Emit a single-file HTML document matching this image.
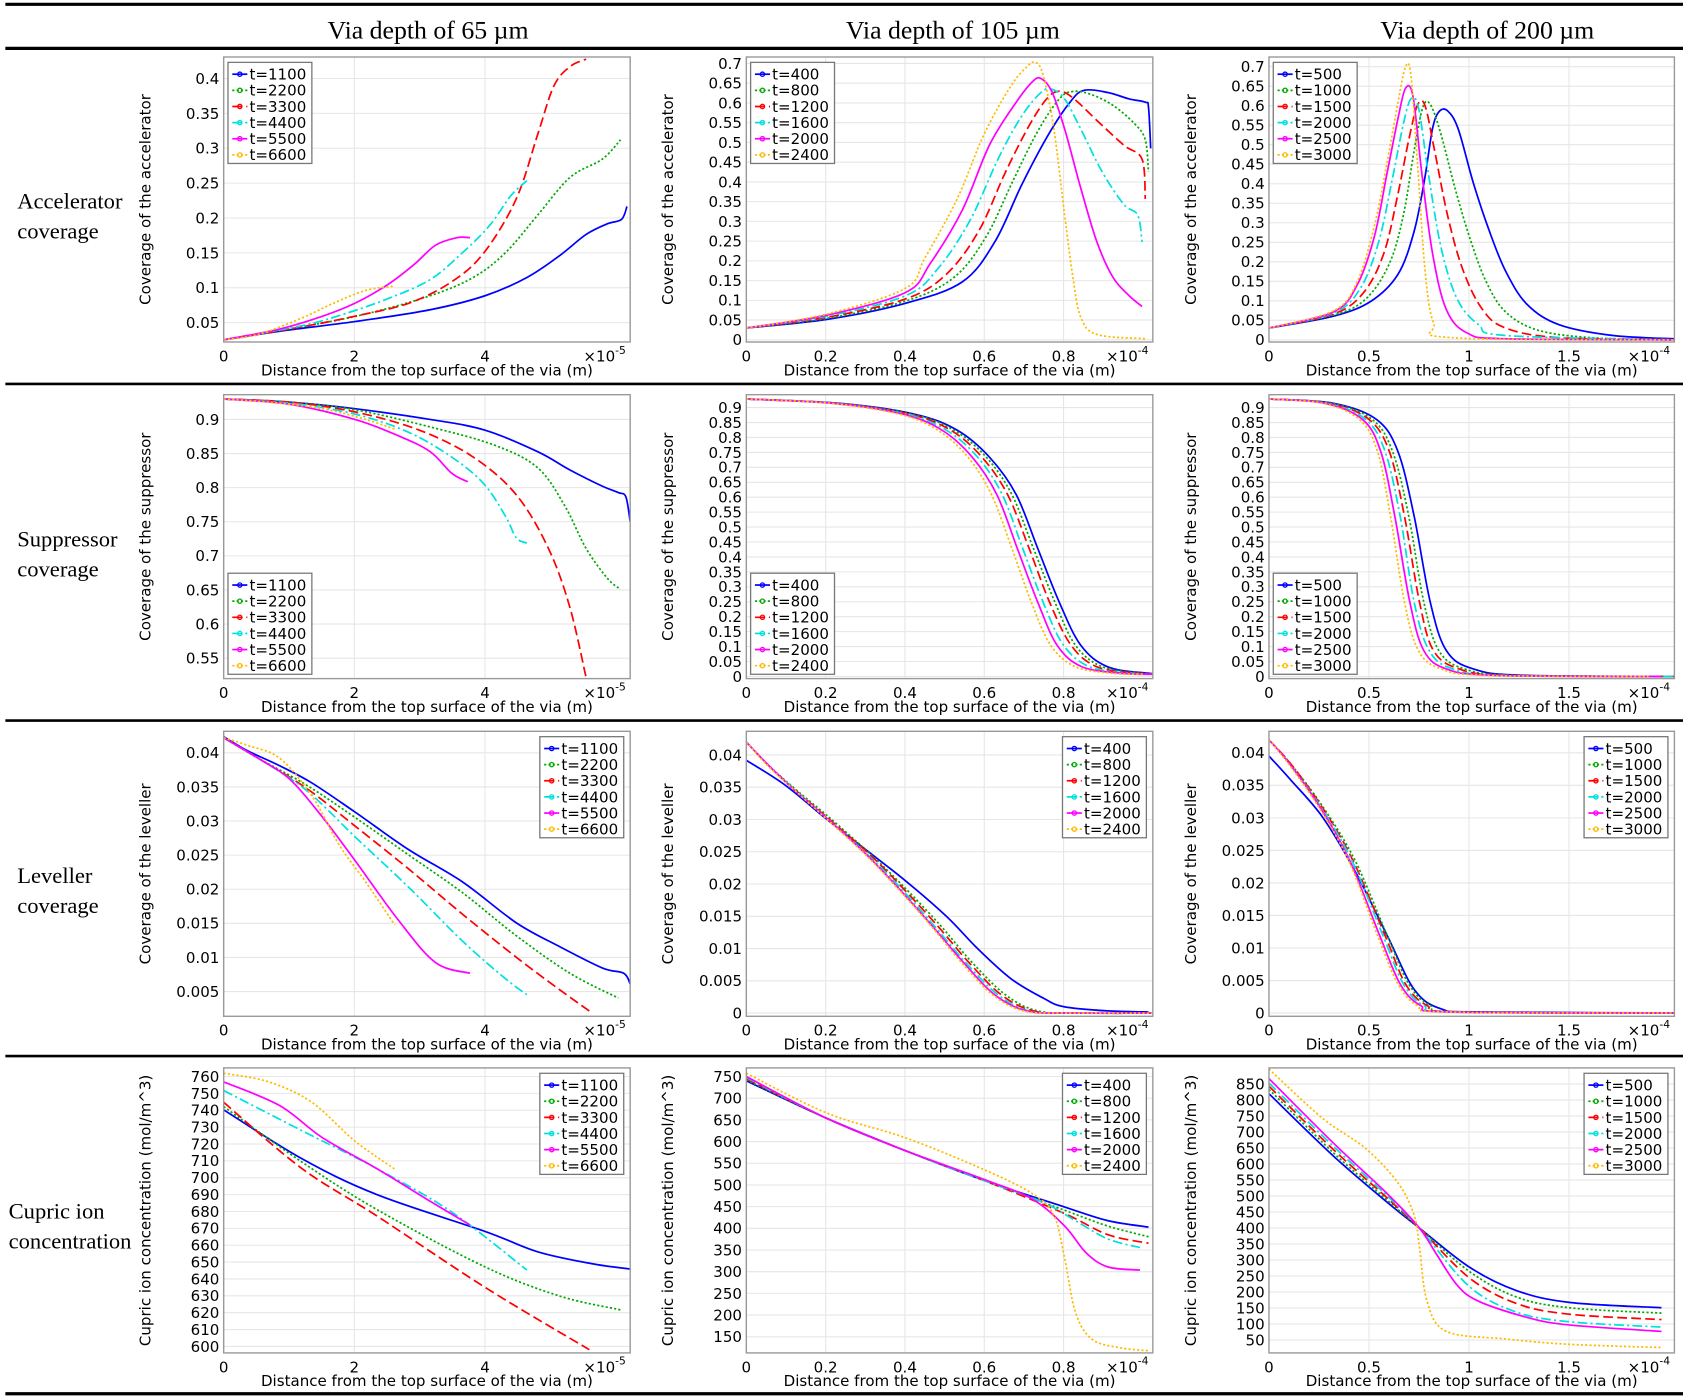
<!DOCTYPE html>
<html><head><meta charset="utf-8"><style>
html,body{margin:0;padding:0;background:#fff;}
svg{display:block;}
</style></head><body>
<svg id="s" width="1683" height="1397" viewBox="0 0 1565 1299" preserveAspectRatio="none" xmlns="http://www.w3.org/2000/svg">
<rect width="1565" height="1299" fill="#fff"/>
<g font-family="Liberation Serif, serif" font-size="24" fill="#000" text-anchor="middle">
<text x="398" y="36">Via depth of 65 µm</text>
<text x="886" y="36">Via depth of 105 µm</text>
<text x="1383" y="36">Via depth of 200 µm</text>
</g>
<g font-family="Liberation Serif, serif" font-size="21" fill="#000">
<text x="16" y="194">Accelerator</text><text x="16" y="222">coverage</text>
<text x="16" y="508">Suppressor</text><text x="16" y="536">coverage</text>
<text x="16" y="821">Leveller</text><text x="16" y="849">coverage</text>
<text x="8" y="1133">Cupric ion</text><text x="8" y="1161">concentration</text>
</g>
<g stroke="#000">
<line x1="5" y1="4" x2="1565" y2="4" stroke-width="3"/>
<line x1="5" y1="45" x2="1565" y2="45" stroke-width="3"/>
<line x1="5" y1="357" x2="1565" y2="357" stroke-width="2.5"/>
<line x1="5" y1="670" x2="1565" y2="670" stroke-width="2.5"/>
<line x1="5" y1="982" x2="1565" y2="982" stroke-width="2.5"/>
<line x1="5" y1="1296" x2="1565" y2="1296" stroke-width="3"/>
</g>
<g id="plots"></g>
</svg>
<script>
var NS="http://www.w3.org/2000/svg",G=document.getElementById('plots');
function el(t,a,p,txt){var e=document.createElementNS(NS,t);for(var k in a)e.setAttribute(k,a[k]);if(txt!==undefined)e.textContent=txt;(p||G).appendChild(e);return e;}
var COL=["#0000ff","#00aa00","#ff0000","#00e0e0","#ff00ff","#ffbb00"];
var DASH=["","2,2","9,4","9,3,2,3","","2,2"];
function path(pts){if(pts.length<2)return"";var d="M"+pts[0][0]+","+pts[0][1];
for(var i=0;i<pts.length-1;i++){var p0=pts[i-1]||pts[i],p1=pts[i],p2=pts[i+1],p3=pts[i+2]||p2;
var c1=[p1[0]+(p2[0]-p0[0])/6,p1[1]+(p2[1]-p0[1])/6],c2=[p2[0]-(p3[0]-p1[0])/6,p2[1]-(p3[1]-p1[1])/6];
d+=" C"+c1[0].toFixed(1)+","+c1[1].toFixed(1)+" "+c2[0].toFixed(1)+","+c2[1].toFixed(1)+" "+p2[0]+","+p2[1];}return d;}
var COLS=[[208,586],[694,1072],[1180,1557]];
var ROWS=[[53,318],[367,631],[680,945],[993,1258]];
var YLAB=["Coverage of the accelerator","Coverage of the suppressor","Coverage of the leveller","Cupric ion concentration (mol/m^3)"];
function plot(c,r,xt,yt,exp,leg,legpos,curves){
 var L=COLS[c][0],R=COLS[c][1],T=ROWS[r][0],B=ROWS[r][1];
 var g=el('g',{});
 xt.forEach(function(t){el('line',{x1:t[0],y1:T,x2:t[0],y2:B,stroke:"#e6e6e6","stroke-width":1},g);});
 yt.forEach(function(t){el('line',{x1:L,y1:t[0],x2:R,y2:t[0],stroke:"#e6e6e6","stroke-width":1},g);});
 var cp=el('clipPath',{id:"c"+c+r},g);el('rect',{x:L,y:T,width:R-L,height:B-T},cp);
 var cg=el('g',{"clip-path":"url(#c"+c+r+")"},g);
 curves.forEach(function(pts,i){if(pts)el('path',{d:path(pts),fill:"none",stroke:COL[i],"stroke-width":1.6,"stroke-dasharray":DASH[i]},cg);});
 el('rect',{x:L,y:T,width:R-L,height:B-T,fill:"none",stroke:"#999","stroke-width":1.3},g);
 var tf={"font-family":"DejaVu Sans, Liberation Sans, sans-serif","font-size":14,fill:"#000"};
 xt.forEach(function(t){var a=Object.assign({x:t[0],y:B+18,"text-anchor":"middle"},tf);el('text',a,g,t[1]);});
 yt.forEach(function(t){var a=Object.assign({x:L-4,y:t[0]+5,"text-anchor":"end"},tf);el('text',a,g,t[1]);});
 var e=el('text',Object.assign({x:R-4,y:B+18,"text-anchor":"end"},tf),g,"×10");
 el('tspan',{dy:-7,"font-size":10},e,exp);
 el('text',Object.assign({x:(L+R)/2,y:B+31,"text-anchor":"middle"},tf),g,"Distance from the top surface of the via (m)");
 var cx=L-68,cy=(T+B)/2;
 el('text',Object.assign({x:cx,y:cy,"text-anchor":"middle",transform:"rotate(-90 "+cx+" "+cy+")"},tf),g,YLAB[r]);
 var w=78,h=94,lx,ly;
 if(legpos=="tl"){lx=L+4;ly=T+5;}else if(legpos=="bl"){lx=L+4;ly=B-h-4;}else{lx=R-w-6;ly=T+5;}
 el('rect',{x:lx,y:ly,width:w,height:h,fill:"#fff",stroke:"#777","stroke-width":1.2},g);
 leg.forEach(function(s,i){var yy=ly+11+15*i;
  el('line',{x1:lx+4,y1:yy,x2:lx+18,y2:yy,stroke:COL[i],"stroke-width":1.6,"stroke-dasharray":DASH[i]},g);
  el('circle',{cx:lx+11,cy:yy,r:2,fill:"none",stroke:COL[i],"stroke-width":1.2},g);
  el('text',Object.assign({x:lx+20,y:yy+5},tf),g,"t="+s);});
}
function ticks(v0,p0,v1,p1,vals,fmt){return vals.map(function(v){return[p0+(v-v0)*(p1-p0)/(v1-v0),fmt?fmt(v):String(v)];});}
function rng(a,b,s){var o=[];for(var v=a;v<=b+1e-9;v+=s)o.push(Math.round(v*10000)/10000);return o;}
function scaleX(pts,L,k){return pts.map(function(p){return[Math.round(L+(p[0]-L)*k),p[1]];});}
var L1=["1100","2200","3300","4400","5500","6600"],L2=["400","800","1200","1600","2000","2400"],L3=["500","1000","1500","2000","2500","3000"];
var X1=ticks(0,208,4,451,[0,2,4]),X2=ticks(0,694,0.8,989,[0,0.2,0.4,0.6,0.8]),X3=ticks(0,1180,1.5,1459,[0,0.5,1,1.5]);
// Row 1
plot(0,0,X1,ticks(0.05,300,0.4,73,rng(0.05,0.4,0.05)),"-5",L1,"tl",[
[[208,316],[260,308],[330,299],[400,288],[451,275],[490,258],[520,238],[545,218],[565,208],[578,204],[583,192]],
[[208,316],[280,304],[340,292],[400,275],[440,258],[470,235],[500,200],[530,165],[560,148],[577,130]],
[[208,316],[280,304],[330,294],[380,282],[420,262],[450,235],[480,185],[500,125],[515,80],[530,62],[545,55]],
[[208,316],[280,303],[320,292],[360,278],[400,260],[430,235],[455,210],[475,182],[490,168]],
[[208,316],[260,306],[300,294],[330,282],[360,265],[385,246],[405,228],[425,221],[437,221]],
[[208,316],[240,311],[280,296],[310,282],[340,270],[367,266]]]);
plot(1,0,X2,ticks(0,316,0.7,59,rng(0,0.7,0.05)),"-4",L2,"tl",[
[[694,305],[769,297],[842,282],[895,262],[925,225],[950,172],[975,125],[995,95],[1008,84],[1030,86],[1050,92],[1065,95],[1068,100],[1070,138]],
[[694,305],[769,296],[842,280],[887,258],[917,220],[942,168],[965,122],[985,92],[998,85],[1015,88],[1035,98],[1055,115],[1065,130],[1068,160]],
[[694,305],[769,295],[842,278],[880,255],[910,215],[935,160],[958,115],[975,90],[987,85],[1000,93],[1020,112],[1045,135],[1062,148],[1065,185]],
[[694,305],[769,294],[842,275],[872,250],[902,205],[928,148],[950,108],[968,86],[978,83],[990,92],[1005,120],[1025,160],[1045,190],[1058,200],[1062,225]],
[[694,305],[769,293],[842,272],[865,245],[895,195],[920,135],[945,95],[960,76],[968,73],[978,85],[990,120],[1005,175],[1020,225],[1035,258],[1050,275],[1062,285]],
[[694,305],[769,292],[842,268],[860,240],[890,185],[915,125],[940,80],[955,62],[963,58],[970,70],[980,120],[990,200],[998,260],[1005,295],[1020,311],[1065,315]]]);
plot(2,0,X3,ticks(0,316,0.7,62,rng(0,0.7,0.05)),"-4",L3,"tl",[
[[1180,305],[1240,294],[1275,280],[1300,255],[1315,215],[1325,165],[1332,120],[1338,104],[1346,103],[1356,120],[1370,170],[1385,215],[1400,252],[1420,283],[1450,302],[1500,312],[1557,315]],
[[1180,305],[1240,293],[1270,278],[1292,245],[1305,200],[1315,140],[1323,100],[1330,97],[1340,125],[1353,175],[1367,222],[1382,262],[1400,290],[1430,307],[1480,314],[1557,316]],
[[1180,305],[1240,292],[1268,272],[1287,235],[1300,180],[1310,130],[1318,98],[1325,98],[1334,140],[1346,200],[1360,250],[1378,287],[1400,305],[1450,314],[1557,316]],
[[1180,305],[1240,291],[1265,268],[1282,225],[1295,165],[1305,115],[1312,92],[1319,100],[1328,160],[1340,230],[1355,278],[1375,302],[1400,312],[1557,316]],
[[1180,305],[1240,290],[1262,265],[1278,220],[1290,160],[1300,110],[1307,82],[1314,90],[1322,160],[1332,235],[1345,288],[1365,310],[1400,315],[1557,316]],
[[1180,305],[1240,289],[1262,262],[1278,210],[1290,150],[1300,95],[1307,62],[1312,70],[1318,150],[1325,250],[1333,300],[1350,314],[1557,316]]]);
// Row 2
plot(0,1,X1,ticks(0.55,612,0.9,390,rng(0.55,0.9,0.05)),"-5",L1,"bl",[
[[208,371],[270,374],[330,380],[400,390],[451,400],[500,420],[530,437],[560,452],[575,458],[582,462],[586,485]],
[[208,371],[270,374],[330,381],[400,397],[460,414],[500,435],[525,470],[545,510],[565,538],[577,548]],
[[208,371],[270,374],[330,383],[390,400],[440,425],[480,460],[510,510],[530,565],[545,630]],
[[208,371],[270,375],[330,385],[380,402],[420,425],[450,450],[470,480],[480,500],[490,505]],
[[208,371],[270,376],[330,390],[370,405],[400,420],[420,440],[435,448]],
[[208,371],[250,374],[300,380],[340,390],[367,399]]]);
var b22=[[694,371],[780,375],[850,385],[890,400],[920,425],[945,460],[965,510],[985,560],[1005,600],[1030,620],[1068,626],[1100,627]];
var k22=[1,0.985,0.97,0.95,0.93,0.91];
plot(1,1,X2,ticks(0,629,0.9,379,rng(0,0.9,0.05)),"-4",L2,"bl",k22.map(function(k){return scaleX(b22,694,k);}));
var b23=[[1180,371],[1240,375],[1280,390],[1300,420],[1315,480],[1330,560],[1345,605],[1370,622],[1420,628],[1600,629]];
var k23=[1,0.96,0.93,0.9,0.87,0.84];
plot(2,1,X3,ticks(0,629,0.9,379,rng(0,0.9,0.05)),"-4",L3,"bl",k23.map(function(k){return scaleX(b23,1180,k);}));
// Row 3
plot(0,2,X1,ticks(0.005,922,0.04,700,rng(0.005,0.04,0.005)),"-5",L1,"tr",[
[[208,685],[230,698],[260,712],[290,728],[330,755],[380,790],[430,820],[480,858],[520,880],[560,900],[580,905],[586,915]],
[[208,686],[240,705],[285,730],[330,760],[380,795],[430,830],[480,870],[530,905],[575,928]],
[[208,686],[240,705],[285,733],[330,768],[380,808],[430,850],[480,890],[520,920],[548,940]],
[[208,686],[240,705],[285,735],[330,778],[380,825],[430,875],[470,910],[490,925]],
[[208,686],[240,705],[270,725],[300,760],[330,800],[370,855],[405,895],[437,905]],
[[208,686],[230,693],[260,705],[290,740],[315,785],[340,820],[367,860]]]);
var b32=[[694,690],[715,712],[740,735],[769,760],[805,792],[835,822],[870,860],[900,895],[930,925],[960,940],[1000,942],[1100,942]];
plot(1,2,X2,ticks(0,942,0.04,702,rng(0,0.04,0.005)),"-4",L2,"tr",[
[[694,707],[730,730],[769,762],[805,790],[842,819],[880,852],[909,882],[940,910],[970,928],[989,936],[1030,940],[1068,941]],
scaleX(b32,694,1.02),scaleX(b32,694,1.005),scaleX(b32,694,0.99),scaleX(b32,694,0.98),scaleX(b32,694,0.97)]);
var b33=[[1180,688],[1200,710],[1230,750],[1260,800],[1290,870],[1310,915],[1330,935],[1360,941],[1600,942]];
plot(2,2,X3,ticks(0,942,0.04,700,rng(0,0.04,0.005)),"-4",L3,"tr",[
[[1180,703],[1200,725],[1230,760],[1260,810],[1290,870],[1315,920],[1340,938],[1380,941],[1600,942]],
scaleX(b33,1180,1.0),scaleX(b33,1180,0.98),scaleX(b33,1180,0.96),scaleX(b33,1180,0.94),scaleX(b33,1180,0.92)]);
// Row 4
plot(0,3,X1,ticks(600,1252,760,1001,rng(600,760,10)),"-5",L1,"tr",[
[[208,1032],[280,1077],[351,1111],[451,1145],[500,1164],[550,1175],[586,1180]],
[[208,1029],[280,1080],[351,1125],[451,1178],[520,1205],[577,1218]],
[[208,1025],[280,1086],[351,1131],[451,1197],[548,1255]],
[[208,1014],[280,1051],[351,1087],[420,1127],[490,1181]],
[[208,1006],[260,1028],[300,1058],[351,1087],[400,1117],[437,1139]],
[[208,998],[250,1006],[290,1025],[330,1061],[367,1087]]]);
plot(1,3,X2,ticks(150,1243,750,1001,rng(150,750,50)),"-4",L2,"tr",[
[[694,1005],[769,1040],[842,1070],[916,1098],[989,1122],[1030,1135],[1068,1141]],
[[694,1004],[769,1040],[842,1070],[916,1098],[989,1125],[1030,1140],[1068,1150]],
[[694,1003],[769,1040],[842,1070],[916,1098],[989,1128],[1030,1148],[1068,1156]],
[[694,1002],[769,1040],[842,1070],[916,1098],[970,1118],[1000,1135],[1030,1152],[1060,1160]],
[[694,1001],[769,1040],[842,1070],[916,1097],[960,1115],[990,1140],[1010,1165],[1030,1178],[1060,1181]],
[[694,998],[769,1035],[842,1058],[916,1088],[960,1110],[980,1130],[990,1170],[1000,1220],[1015,1245],[1040,1253],[1068,1256]]]);
plot(2,3,X3,ticks(50,1246,850,1008,rng(50,850,50)),"-4",L3,"tr",[
[[1180,1017],[1240,1075],[1290,1118],[1320,1142],[1366,1178],[1410,1200],[1459,1211],[1545,1216]],
[[1180,1013],[1240,1072],[1290,1116],[1320,1142],[1366,1182],[1410,1206],[1459,1216],[1545,1221]],
[[1180,1010],[1240,1069],[1290,1114],[1320,1142],[1366,1188],[1410,1212],[1459,1222],[1545,1227]],
[[1180,1007],[1240,1066],[1290,1112],[1320,1142],[1366,1196],[1410,1220],[1459,1229],[1545,1234]],
[[1180,1003],[1240,1063],[1290,1110],[1320,1142],[1335,1165],[1355,1195],[1375,1210],[1420,1225],[1459,1232],[1545,1238]],
[[1180,994],[1230,1040],[1270,1068],[1300,1100],[1315,1130],[1320,1160],[1327,1210],[1345,1238],[1400,1245],[1459,1250],[1545,1253]]]);
</script>
</body></html>
